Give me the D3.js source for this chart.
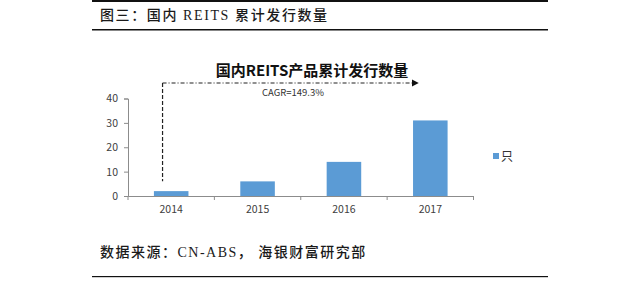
<!DOCTYPE html>
<html>
<head>
<meta charset="utf-8">
<script src="https://cdn.jsdelivr.net/npm/d3@7"></script>
<style>
  body { margin: 0; background: #fff; }
  svg { display: block; }
</style>
</head>
<body>
<div id="container"></div>
<script>
const years = ['2014', '2015', '2016', '2017'];
const counts = [2, 6, 14, 31];
const yTicks = [0, 10, 20, 30, 40];
const seriesName = '只';
const cagrLabel = 'CAGR=149.3%';

const width = 640; const height = 292;
const svg = d3.select('#container').append('svg')
    .attr('width', width).attr('height', height);

const serif = '"Liberation Serif", "Noto Sans CJK SC", serif';
const sans = '"Noto Sans CJK SC", "DejaVu Sans", sans-serif';

// Report frame: header, rules, source line
svg.append('rect').attr('x', 92).attr('y', 0).attr('width', 456).attr('height', 2).attr('fill', '#111');
svg.append('text').attr('x', 100).attr('y', 20)
    .style('font-family', serif).style('font-size', '14px').style('letter-spacing', '1.6px')
    .style('font-weight', 500).attr('fill', '#1a1a1a').text('图三：国内 REITS 累计发行数量');
svg.append('rect').attr('x', 92).attr('y', 29).attr('width', 456).attr('height', 1.5).attr('fill', '#111');

svg.append('text').attr('x', 100).attr('y', 257)
    .style('font-family', serif).style('font-size', '14px').style('letter-spacing', '1.5px')
    .style('font-weight', 500).attr('fill', '#1a1a1a').text('数据来源：CN-ABS，  海银财富研究部');
svg.append('rect').attr('x', 92).attr('y', 276).attr('width', 456).attr('height', 1.2).attr('fill', '#111');

// Chart
const x = d3.scaleBand().domain(years).range([128, 473.5]).paddingInner(0.6).paddingOuter(0.3);
const y = d3.scaleLinear().domain([0, 40]).range([196, 98.5]);

const g = svg.append('g');

g.append('text').attr('x', 312).attr('y', 76).attr('text-anchor', 'middle')
    .style('font-family', sans).style('font-size', '15px').style('font-weight', 'bold')
    .attr('fill', '#111').text('国内REITS产品累计发行数量');

const yAxis = g.append('g').attr('transform', 'translate(128,0)')
    .call(d3.axisLeft(y).tickValues(yTicks).tickSize(4).tickPadding(6));
const xAxis = g.append('g').attr('transform', 'translate(0,196)')
    .call(d3.axisBottom(x).tickSize(0).tickPadding(10));

[yAxis, xAxis].forEach((a) => {
  a.select('.domain').attr('stroke', '#8c8c8c');
  a.selectAll('.tick line').attr('stroke', '#8c8c8c');
  a.selectAll('text').attr('fill', '#404040')
      .style('font-family', sans).style('font-size', '10.5px');
});

// category separators on the x axis
const step = x.step();
const seps = d3.range(years.length + 1).map((i) => 128 + i * step);
xAxis.selectAll('.sep').data(seps).enter().append('line')
    .attr('x1', (d) => d).attr('x2', (d) => d).attr('y1', 0).attr('y2', 4)
    .attr('stroke', '#8c8c8c');

g.selectAll('.bar').data(counts).enter().append('rect')
    .attr('x', (d, i) => x(years[i]))
    .attr('y', (d) => y(d))
    .attr('width', x.bandwidth())
    .attr('height', (d) => y(0) - y(d))
    .attr('fill', '#5b9bd5');

// CAGR arrow
const ax = x(years[0]) + x.bandwidth() * 0.25;
const ay = 83;
svg.append('defs').append('marker').attr('id', 'arr')
    .attr('viewBox', '0 0 10 10').attr('refX', 2).attr('refY', 5)
    .attr('markerWidth', 6).attr('markerHeight', 6).attr('orient', 'auto')
    .append('path').attr('d', 'M0,0L10,5L0,10z').attr('fill', '#111');
g.append('line').attr('x1', ax).attr('x2', ax).attr('y1', ay).attr('y2', y(counts[0]) - 10)
    .attr('stroke', '#222').attr('stroke-width', 1.2).attr('stroke-dasharray', '4,2');
g.append('line').attr('x1', ax).attr('x2', 413).attr('y1', ay).attr('y2', ay)
    .attr('stroke', '#222').attr('stroke-width', 1.2).attr('stroke-dasharray', '4,2,1,2')
    .attr('marker-end', 'url(#arr)');
g.append('text').attr('x', 293).attr('y', 96).attr('text-anchor', 'middle')
    .style('font-family', sans).style('font-size', '9.5px').attr('fill', '#333')
    .text(cagrLabel);

// Legend
const lg = g.append('g').attr('transform', 'translate(493,153)');
lg.append('rect').attr('width', 6).attr('height', 6).attr('fill', '#5b9bd5');
lg.append('text').attr('x', 8).attr('y', 7.5)
    .style('font-family', sans).style('font-size', '12px').attr('fill', '#333').text(seriesName);
</script>
</body>
</html>
